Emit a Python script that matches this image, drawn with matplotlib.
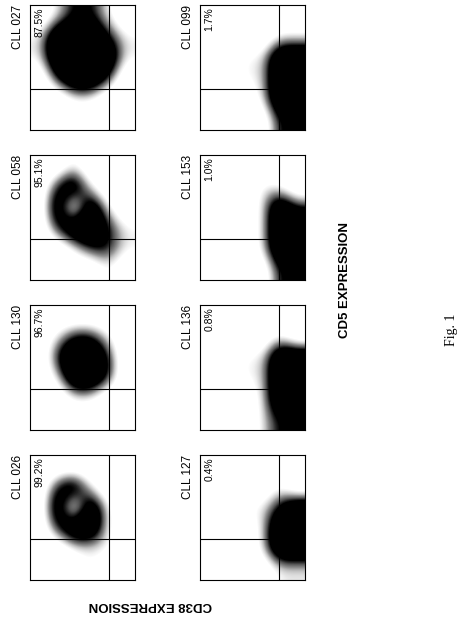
import numpy as np
import matplotlib.pyplot as plt

W, H = 474, 632

names = ["CLL 027", "CLL 058", "CLL 130", "CLL 026",
         "CLL 099", "CLL 153", "CLL 136", "CLL 127"]
percents = ["87.5%", "95.1%", "96.7%", "99.2%",
            "1.7%", "1.0%", "0.8%", "0.4%"]

# estimated event density per panel, rows = image top->bottom, cols = left->right
dens = {
    "CLL 027": [[0, 1, 2, 2, 1, 0], [1, 3, 3, 3, 2, 1], [1, 3, 3, 3, 3, 1],
                [0, 2, 3, 3, 2, 0], [0, 0, 1, 1, 0, 0], [0, 0, 0, 0, 0, 0]],
    "CLL 058": [[0, 0, 1, 0, 0, 0], [0, 2, 3, 1, 0, 0], [0, 3, 0, 3, 1, 0],
                [0, 2, 3, 3, 2, 1], [0, 0, 1, 2, 2, 1], [0, 0, 0, 0, 1, 0]],
    "CLL 130": [[0, 0, 0, 0, 0, 0], [0, 1, 2, 2, 1, 0], [0, 2, 3, 3, 2, 0],
                [0, 1, 3, 3, 2, 0], [0, 0, 1, 1, 0, 0], [0, 0, 0, 0, 0, 0]],
    "CLL 026": [[0, 0, 0, 0, 0, 0], [0, 2, 3, 1, 0, 0], [0, 3, 0, 3, 1, 0],
                [0, 2, 3, 3, 1, 0], [0, 0, 1, 1, 1, 0], [0, 0, 0, 1, 0, 0]],
    "CLL 099": [[0, 0, 0, 0, 0, 0], [0, 0, 0, 0, 1, 1], [0, 0, 1, 1, 3, 3],
                [0, 0, 1, 1, 3, 3], [0, 0, 0, 1, 3, 3], [0, 0, 0, 0, 2, 2]],
    "CLL 153": [[0, 0, 0, 0, 0, 0], [0, 0, 0, 1, 1, 0], [0, 0, 0, 1, 3, 2],
                [0, 0, 0, 1, 3, 3], [0, 0, 0, 1, 3, 3], [0, 0, 0, 0, 2, 2]],
    "CLL 136": [[0, 0, 0, 0, 0, 0], [0, 0, 0, 0, 1, 0], [0, 0, 1, 1, 3, 3],
                [0, 0, 1, 1, 3, 3], [0, 0, 0, 1, 3, 2], [0, 0, 0, 1, 2, 2]],
    "CLL 127": [[0, 0, 0, 0, 0, 0], [0, 0, 0, 0, 1, 0], [0, 0, 1, 1, 2, 3],
                [0, 0, 0, 1, 3, 3], [0, 0, 0, 1, 3, 3], [0, 0, 0, 0, 1, 1]],
}

col_x = [30, 200]
row_y = [5, 155, 305, 455]
box_w, box_h = 105, 125
vline = [0.75, 0.75]
hline = 0.67

fig = plt.figure(figsize=(W / 100, H / 100), dpi=100)

for i, name in enumerate(names):
    c, r = divmod(i, 4)
    x0, y0 = col_x[c], row_y[r]
    ax = fig.add_axes([x0 / W, 1 - (y0 + box_h) / H, box_w / W, box_h / H])
    ax.imshow(np.array(dens[name], float), cmap="Greys", vmin=0.9, vmax=1.9,
              interpolation="bicubic", extent=[0, 1, 0, 1], aspect="auto")
    ax.axvline(vline[c], color="k", lw=0.8)
    ax.axhline(1 - hline, color="k", lw=0.8)
    ax.set_xlim(0, 1)
    ax.set_ylim(0, 1)
    ax.set_xticks([])
    ax.set_yticks([])
    for s in ax.spines.values():
        s.set_linewidth(0.8)
    fig.text((x0 - 12) / W, 1 - y0 / H, name, rotation=90, ha="center",
             va="top", fontsize=8.5, family="Liberation Sans")
    ax.text(0.09, 0.98, percents[i], rotation=90, ha="center", va="top",
            fontsize=7.5, family="Liberation Sans", transform=ax.transAxes)

fig.text(345 / W, 1 - 280 / H, "CD5 EXPRESSION", rotation=90, ha="center",
         va="center", fontsize=9.5, fontweight="bold", family="Liberation Sans")
fig.text(150 / W, 1 - 605 / H, "CD38 EXPRESSION", rotation=180, ha="center",
         va="center", fontsize=9.5, fontweight="bold", family="Liberation Sans")
fig.text(452 / W, 1 - 330 / H, "Fig. 1", rotation=90, ha="center",
         va="center", fontsize=10, family="Liberation Serif")

fig.savefig("out.png", dpi=100)
